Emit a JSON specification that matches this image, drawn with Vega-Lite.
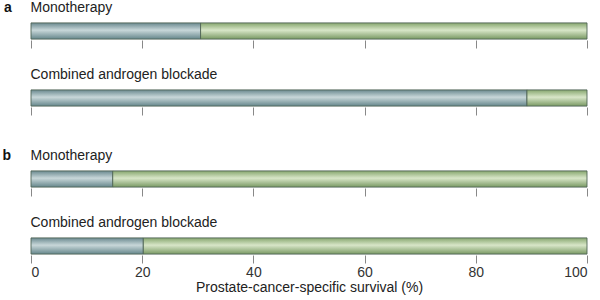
{
  "$schema": "https://vega.github.io/schema/vega-lite/v6.json",
  "padding": {"left": 2, "top": 1, "right": 2, "bottom": 2},
  "background": "white",
  "config": {
    "view": {"stroke": null},
    "font": "Liberation Sans",
    "concat": {"spacing": 33}
  },
  "datasets": {
    "bars": [
      {"panel": "a", "arm": "Monotherapy", "part": "blue", "start": 0, "end": 30.5},
      {"panel": "a", "arm": "Monotherapy", "part": "green", "start": 30.5, "end": 100},
      {"panel": "a", "arm": "Combined androgen blockade", "part": "blue", "start": 0, "end": 89.2},
      {"panel": "a", "arm": "Combined androgen blockade", "part": "green", "start": 89.2, "end": 100},
      {"panel": "b", "arm": "Monotherapy", "part": "blue", "start": 0, "end": 14.7},
      {"panel": "b", "arm": "Monotherapy", "part": "green", "start": 14.7, "end": 100},
      {"panel": "b", "arm": "Combined androgen blockade", "part": "blue", "start": 0, "end": 20.2},
      {"panel": "b", "arm": "Combined androgen blockade", "part": "green", "start": 20.2, "end": 100}
    ]
  },
  "vconcat": [
    {
      "title": {"text": "a", "orient": "left", "angle": 0, "anchor": "end", "baseline": "top", "fontSize": 14, "fontWeight": "bold", "offset": 11, "color": "#111"},
      "spacing": 19,
      "vconcat": [
        {
          "title": {"text": "Monotherapy", "anchor": "start", "fontSize": 14, "fontWeight": "normal", "offset": 7, "color": "#222"},
          "width": 556, "height": 18,
          "data": {"name": "bars"},
          "transform": [{"filter": "datum.panel == 'a' && datum.arm == 'Monotherapy'"}],
          "mark": {"type": "bar", "stroke": "#4f6456", "strokeWidth": 0.9},
          "encoding": {
            "x": {"field": "start", "type": "quantitative", "scale": {"domain": [0, 100], "nice": false},
                  "axis": {"labels": false, "domain": false, "grid": false, "title": null, "tickSize": 8, "tickColor": "#888", "values": [0, 20, 40, 60, 80, 100]}},
            "x2": {"field": "end"},
            "fill": {"condition": {"test": "datum.part == 'blue'", "value": {"gradient": "linear", "x1": 0, "y1": 0, "x2": 0, "y2": 1, "stops": [{"offset": 0, "color": "#6a898f"}, {"offset": 0.45, "color": "#c8d7d9"}, {"offset": 1, "color": "#65868b"}]}},
                     "value": {"gradient": "linear", "x1": 0, "y1": 0, "x2": 0, "y2": 1, "stops": [{"offset": 0, "color": "#86a66e"}, {"offset": 0.45, "color": "#d8e6c8"}, {"offset": 1, "color": "#799963"}]}}
          }
        },
        {
          "title": {"text": "Combined androgen blockade", "anchor": "start", "fontSize": 14, "fontWeight": "normal", "offset": 7, "color": "#222"},
          "width": 556, "height": 18,
          "data": {"name": "bars"},
          "transform": [{"filter": "datum.panel == 'a' && datum.arm == 'Combined androgen blockade'"}],
          "mark": {"type": "bar", "stroke": "#4f6456", "strokeWidth": 0.9},
          "encoding": {
            "x": {"field": "start", "type": "quantitative", "scale": {"domain": [0, 100], "nice": false},
                  "axis": {"labels": false, "domain": false, "grid": false, "title": null, "tickSize": 8, "tickColor": "#888", "values": [0, 20, 40, 60, 80, 100]}},
            "x2": {"field": "end"},
            "fill": {"condition": {"test": "datum.part == 'blue'", "value": {"gradient": "linear", "x1": 0, "y1": 0, "x2": 0, "y2": 1, "stops": [{"offset": 0, "color": "#6a898f"}, {"offset": 0.45, "color": "#c8d7d9"}, {"offset": 1, "color": "#65868b"}]}},
                     "value": {"gradient": "linear", "x1": 0, "y1": 0, "x2": 0, "y2": 1, "stops": [{"offset": 0, "color": "#86a66e"}, {"offset": 0.45, "color": "#d8e6c8"}, {"offset": 1, "color": "#799963"}]}}
          }
        }
      ]
    },
    {
      "title": {"text": "b", "orient": "left", "angle": 0, "anchor": "end", "baseline": "top", "fontSize": 14, "fontWeight": "bold", "offset": 11, "color": "#111"},
      "spacing": 19,
      "vconcat": [
        {
          "title": {"text": "Monotherapy", "anchor": "start", "fontSize": 14, "fontWeight": "normal", "offset": 7, "color": "#222"},
          "width": 556, "height": 18,
          "data": {"name": "bars"},
          "transform": [{"filter": "datum.panel == 'b' && datum.arm == 'Monotherapy'"}],
          "mark": {"type": "bar", "stroke": "#4f6456", "strokeWidth": 0.9},
          "encoding": {
            "x": {"field": "start", "type": "quantitative", "scale": {"domain": [0, 100], "nice": false},
                  "axis": {"labels": false, "domain": false, "grid": false, "title": null, "tickSize": 8, "tickColor": "#888", "values": [0, 20, 40, 60, 80, 100]}},
            "x2": {"field": "end"},
            "fill": {"condition": {"test": "datum.part == 'blue'", "value": {"gradient": "linear", "x1": 0, "y1": 0, "x2": 0, "y2": 1, "stops": [{"offset": 0, "color": "#6a898f"}, {"offset": 0.45, "color": "#c8d7d9"}, {"offset": 1, "color": "#65868b"}]}},
                     "value": {"gradient": "linear", "x1": 0, "y1": 0, "x2": 0, "y2": 1, "stops": [{"offset": 0, "color": "#86a66e"}, {"offset": 0.45, "color": "#d8e6c8"}, {"offset": 1, "color": "#799963"}]}}
          }
        },
        {
          "title": {"text": "Combined androgen blockade", "anchor": "start", "fontSize": 14, "fontWeight": "normal", "offset": 7, "color": "#222"},
          "width": 556, "height": 18,
          "data": {"name": "bars"},
          "transform": [{"filter": "datum.panel == 'b' && datum.arm == 'Combined androgen blockade'"}],
          "mark": {"type": "bar", "stroke": "#4f6456", "strokeWidth": 0.9},
          "encoding": {
            "x": {"field": "start", "type": "quantitative", "scale": {"domain": [0, 100], "nice": false},
                  "axis": {"labels": true, "domain": false, "grid": false, "title": "Prostate-cancer-specific survival (%)", "titleFontSize": 14, "titleFontWeight": "normal", "titleColor": "#222", "titlePadding": 1, "labelFontSize": 14, "labelColor": "#333", "labelPadding": 2, "tickSize": 8, "tickColor": "#888", "values": [0, 20, 40, 60, 80, 100]}},
            "x2": {"field": "end"},
            "fill": {"condition": {"test": "datum.part == 'blue'", "value": {"gradient": "linear", "x1": 0, "y1": 0, "x2": 0, "y2": 1, "stops": [{"offset": 0, "color": "#6a898f"}, {"offset": 0.45, "color": "#c8d7d9"}, {"offset": 1, "color": "#65868b"}]}},
                     "value": {"gradient": "linear", "x1": 0, "y1": 0, "x2": 0, "y2": 1, "stops": [{"offset": 0, "color": "#86a66e"}, {"offset": 0.45, "color": "#d8e6c8"}, {"offset": 1, "color": "#799963"}]}}
          }
        }
      ]
    }
  ]
}
